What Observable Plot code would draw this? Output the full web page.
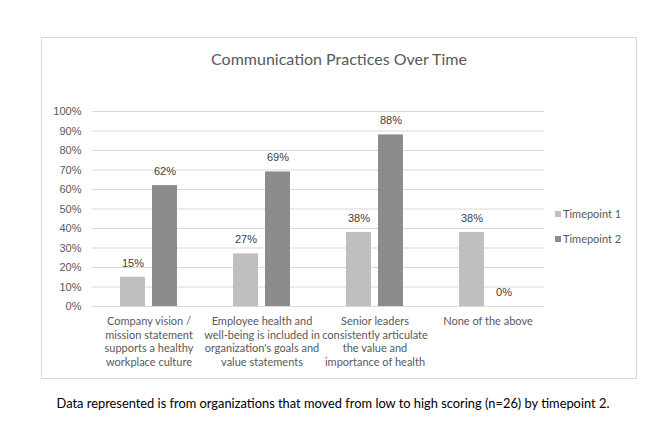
<!DOCTYPE html>
<html>
<head>
<meta charset="utf-8">
<script src="https://cdn.jsdelivr.net/npm/d3@7"></script>
<script src="https://cdn.jsdelivr.net/npm/@observablehq/plot@0.6"></script>
<style>
  html, body { margin: 0; padding: 0; background: #fff; }
  #root { position: relative; width: 672px; height: 434px; overflow: hidden; background: #fff; }
  #frame { position: absolute; left: 41px; top: 37px; width: 594px; height: 340px; border: 1px solid #d9d9d9; }
  #title { position: absolute; left: 41px; width: 596px; top: 49px; text-align: center; font-family: Lato, sans-serif; font-size: 16px; color: #595959; }
  #chart { position: absolute; left: 0; top: 0; }
  .leg { position: absolute; left: 555px; font-family: Lato, sans-serif; font-size: 11px; color: #595959; line-height: 14px; }
  .leg span { display: inline-block; width: 6px; height: 6px; margin-right: 2px; vertical-align: 1px; }
  #caption { position: absolute; left: -3px; width: 672px; top: 395px; text-align: center; font-family: Lato, sans-serif; font-size: 12.85px; color: #000; }
  g[aria-label="category-labels"] text { letter-spacing: -0.25px; }
</style>
</head>
<body>
<div id="root">
  <div id="frame"></div>
  <div id="chart"></div>
  <div id="title"></div>
  <div id="legend"></div>
  <div id="caption"></div>
</div>
<script>
const chartTitle = "Communication Practices Over Time";
const captionText = "Data represented is from organizations that moved from low to high scoring (n=26) by timepoint 2.";
const categories = ["Company vision", "Employee health", "Senior leaders", "None of the above"];
const categoryLabels = [
  "Company vision /\nmission statement\nsupports a healthy\nworkplace culture",
  "Employee health and\nwell-being is included in\norganization's goals and\nvalue statements",
  "Senior leaders\nconsistently articulate\nthe value and\nimportance of health",
  "None of the above"
];
const series = ["Timepoint 1", "Timepoint 2"];
const timepoint1 = [15, 27, 38, 38];
const timepoint2 = [62, 69, 88, 0];
const yTicks = [0, 10, 20, 30, 40, 50, 60, 70, 80, 90, 100];
const seriesColors = ["#bfbfbf", "#8c8c8c"];

const data = categories.flatMap((c, i) => [
  {category: c, series: series[0], value: timepoint1[i]},
  {category: c, series: series[1], value: timepoint2[i]}
]);
const labelData = categories.map((c, i) => ({category: c, label: categoryLabels[i]}));

const plot = Plot.plot({
  width: 672,
  height: 380,
  marginLeft: 91,
  marginRight: 127,
  marginTop: 111,
  marginBottom: 74,
  style: {fontFamily: "'Liberation Sans', Arial, sans-serif", fontSize: "11px", color: "#595959", background: "transparent", overflow: "visible"},
  fx: {domain: categories, padding: 0, label: null, axis: null},
  x: {domain: series, axis: null, paddingInner: 0.21, paddingOuter: 0.83},
  y: {domain: [0, 100], ticks: yTicks, tickFormat: d => d + "%", tickSize: 0, tickPadding: 11, label: null},
  color: {domain: series, range: seriesColors},
  marks: [
    Plot.ruleY(yTicks, {stroke: "#d9d9d9", strokeWidth: 1}),
    Plot.barY(data, {fx: "category", x: "series", y: "value", fill: "series"}),
    Plot.text(data, {fx: "category", x: "series", y: "value", text: d => d.value + "%", dy: -14, fill: "#404040", fontSize: 11}),
    Plot.text(labelData, {fx: "category", text: "label", frameAnchor: "bottom", lineAnchor: "top", dy: 9,
      lineHeight: 1.24, fontSize: 11, fill: "#595959", ariaLabel: "category-labels",
      fontFamily: "Lato, sans-serif"})
  ]
});
document.getElementById("chart").appendChild(plot);

document.getElementById("title").textContent = chartTitle;
document.getElementById("caption").textContent = captionText;
const legend = document.getElementById("legend");
series.forEach((s, i) => {
  const d = document.createElement("div");
  d.className = "leg";
  d.style.top = (207 + i * 25) + "px";
  d.innerHTML = `<span style="background:${seriesColors[i]}"></span>${s}`;
  legend.appendChild(d);
});
</script>
</body>
</html>
